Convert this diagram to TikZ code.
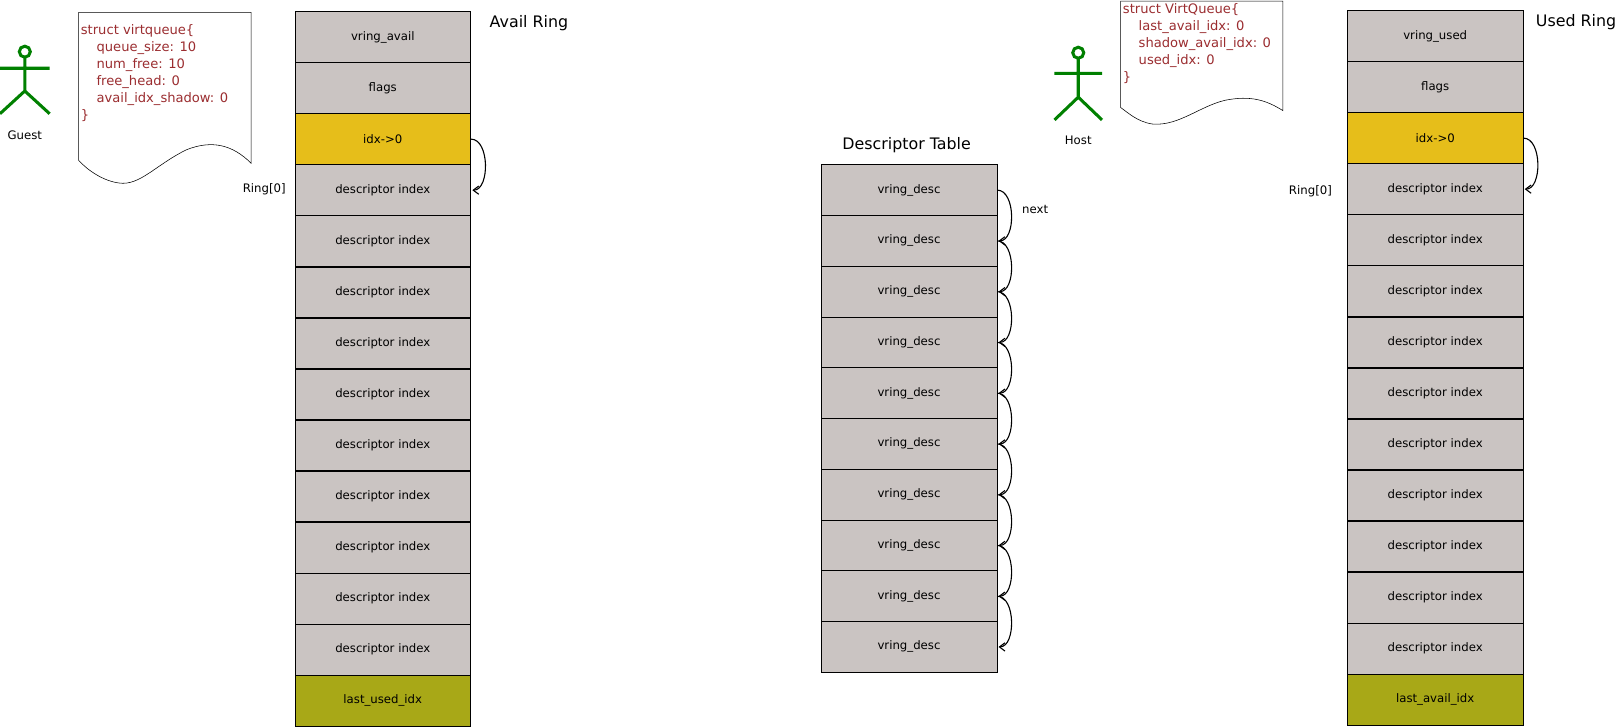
\documentclass[tikz,border=0pt]{standalone}
\usepackage{fontspec}
\usetikzlibrary{arrows.meta}
\setmainfont{DejaVu Sans}
\definecolor{cellgray}{HTML}{CAC4C2}
\definecolor{cellyellow}{HTML}{E6BE1A}
\definecolor{cellolive}{HTML}{A8A817}
\definecolor{codered}{HTML}{9B2D30}
\definecolor{actor}{HTML}{008000}
\begin{document}
\begin{tikzpicture}[x=0.75pt,y=-0.75pt,
  cell/.style={draw=black,fill=cellgray,minimum width=127.5pt,minimum height=36.9pt,inner sep=0pt,font=\fontsize{8.5}{10}\selectfont,anchor=north west},
  yel/.style={cell,fill=cellyellow},
  olv/.style={cell,fill=cellolive},
  title/.style={font=\fontsize{11.5}{13}\selectfont},
  small/.style={font=\fontsize{8.5}{10}\selectfont},
  code/.style={font=\fontsize{9.5}{12.4}\selectfont,text=codered,align=left,anchor=north west,inner sep=0pt},
  link/.style={-{Straight Barb[length=4pt,width=6pt]},black,thick,shorten >=1pt},
  man/.style={actor,line width=2.2pt}]
\useasboundingbox (0,0) rectangle (1568,704);
% Avail ring
\node[cell] (a1) at (285,11) {vring\_avail};
\node[cell] (a2) at (285,60.36) {flags};
\node[yel] (a3) at (285,109.7) {idx->0};
\foreach \i in {4,...,13}{\node[cell] (a\i) at (285,{11+(\i-1)*49.36}) {descriptor index};}
\node[olv] (a14) at (285,{11+13*49.36}) {last\_used\_idx};
% Used ring
\node[cell] (u1) at (1303,10) {vring\_used};
\node[cell] (u2) at (1303,59.36) {flags};
\node[yel] (u3) at (1303,108.7) {idx->0};
\foreach \i in {4,...,13}{\node[cell] (u\i) at (1303,{10+(\i-1)*49.36}) {descriptor index};}
\node[olv] (u14) at (1303,{10+13*49.36}) {last\_avail\_idx};
% Descriptor table
\foreach \i in {1,...,10}{\node[cell] (d\i) at (794,{159+(\i-1)*49.1}) {vring\_desc};}
\foreach \i [evaluate=\i as \j using int(\i+1)] in {1,...,9}{
  \draw[link] (d\i.east) to[out=0,in=0,looseness=0.95] (d\j.east);}
\node[small,anchor=west] (nx) at (984,203) {next};
\draw[link] (a3.east) to[out=0,in=0,looseness=0.95] (a4.east);
\draw[link] (u3.east) to[out=0,in=0,looseness=0.95] (u4.east);
% titles
\node[title,anchor=west] (t1) at (469,22) {Avail Ring};
\node[title,anchor=west] (t2) at (1481,21) {Used Ring};
\node[title] (t3) at (877,140) {Descriptor Table};
\node[small,anchor=east] (r1) at (281,183) {Ring[0]};
\node[small,anchor=east] (r2) at (1293,185) {Ring[0]};
% Guest actor
\draw[man] (24,50) circle (4pt);
\draw[man] (24,56) -- (24,88) (0,66) -- (48,66) (0,110) -- (24,88) -- (48,110);
\node[small] (g) at (24,131) {Guest};
% Host actor
\draw[man] (1043,51) circle (4pt);
\draw[man] (1043,57) -- (1043,94) (1020,71) -- (1066,71) (1020,116) -- (1043,94) -- (1066,116);
\node[small] (h) at (1043,136) {Host};
% notes
\draw[fill=white] (76,12) -- (243,12) -- (243,158) .. controls (225,140) and (205,135) .. (180,145) .. controls (150,160) and (135,180) .. (115,177) .. controls (100,175) and (85,165) .. (76,155) -- cycle;
\node[code] (c1) at (78,23) {struct virtqueue\{\\\hspace*{1.2em}queue\_size: 10\\\hspace*{1.2em}num\_free: 10\\\hspace*{1.2em}free\_head: 0\\\hspace*{1.2em}avail\_idx\_shadow: 0\\\}};
\draw[fill=white] (1084,1) -- (1241,1) -- (1241,107) .. controls (1225,97) and (1210,92) .. (1185,97) .. controls (1160,103) and (1140,122) .. (1115,120) .. controls (1100,118) and (1090,108) .. (1084,104) -- cycle;
\node[code] (c2) at (1086,3) {struct VirtQueue\{\\\hspace*{1.2em}last\_avail\_idx: 0\\\hspace*{1.2em}shadow\_avail\_idx: 0\\\hspace*{1.2em}used\_idx: 0\\\}};
\end{tikzpicture}
\end{document}
